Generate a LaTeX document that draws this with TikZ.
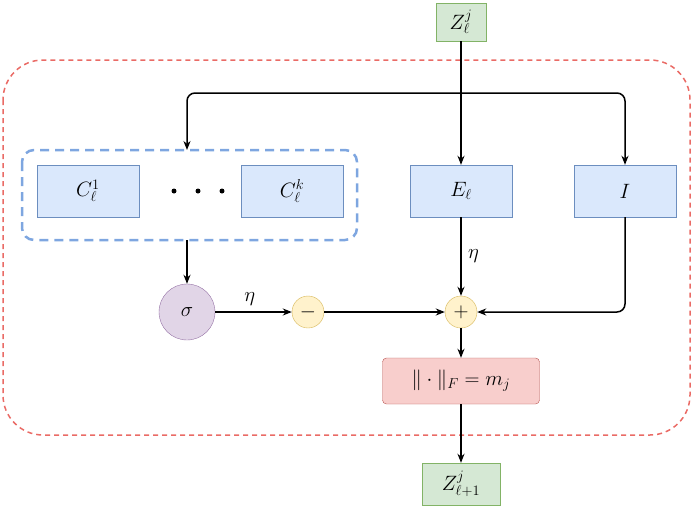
\documentclass[tikz,border=0pt]{standalone}
\usetikzlibrary{arrows.meta}
\begin{document}
\begin{tikzpicture}[x=1pt,y=-1pt,
  >={Stealth[length=9pt,width=7pt]},
  font=\fontsize{20}{24}\selectfont,
  blue box/.style={minimum width=102pt,minimum height=52pt,inner sep=0pt},
  dot/.style={circle,fill=black,minimum size=5pt,inner sep=0pt},
  line/.style={line width=1.5pt,->}]
\useasboundingbox (0,0) rectangle (697,512);
\definecolor{rd}{HTML}{EA6B66}\definecolor{bl}{HTML}{7EA6E0}
\definecolor{bfill}{HTML}{DAE8FC}\definecolor{bstroke}{HTML}{6C8EBF}
\definecolor{gfill}{HTML}{D5E8D4}\definecolor{gstroke}{HTML}{82B366}
\definecolor{yfill}{HTML}{FFF2CC}\definecolor{ystroke}{HTML}{D6B656}
\definecolor{pfill}{HTML}{E1D5E7}\definecolor{pstroke}{HTML}{9673A6}
\definecolor{rfill}{HTML}{F8CECC}\definecolor{rstroke}{HTML}{B85450}
\draw[rd,line width=1.5pt,dash pattern=on 5pt off 4pt,rounded corners=40pt] (3,60) rectangle (690,435);
\draw[bl,line width=2.5pt,dash pattern=on 9pt off 6pt,rounded corners=12pt] (22,150) rectangle (357,240);
\node[blue box,draw=bstroke,fill=bfill] (c1) at (88,191) {$C_\ell^1$};
\node[blue box,draw=bstroke,fill=bfill] (ck) at (292,191) {$C_\ell^k$};
\node[dot] (d1) at (174,191) {};
\node[dot] (d2) at (198,191) {};
\node[dot] (d3) at (222,191) {};
\node[blue box,draw=bstroke,fill=bfill] (e) at (461,191) {$E_\ell$};
\node[blue box,draw=bstroke,fill=bfill] (i) at (625,191) {$I$};
\node[draw=gstroke,fill=gfill,minimum width=50pt,minimum height=38pt,inner sep=0pt] (z) at (461,22) {$Z_\ell^j$};
\node[draw=gstroke,fill=gfill,minimum width=78pt,minimum height=42pt,inner sep=0pt] (z2) at (461,484) {$Z_{\ell+1}^j$};
\node[circle,draw=pstroke,fill=pfill,minimum size=56pt,inner sep=0pt] (s) at (187,312) {$\sigma$};
\node[circle,draw=ystroke,fill=yfill,minimum size=32pt,inner sep=0pt] (m) at (308,312) {$-$};
\node[circle,draw=ystroke,fill=yfill,minimum size=32pt,inner sep=0pt] (p) at (461,312) {$+$};
\node[draw=rstroke,fill=rfill,rounded corners=4pt,minimum width=157pt,minimum height=46pt,inner sep=0pt] (n) at (461,381) {$\|\cdot\|_F=m_j$};
\coordinate (bb) at (187,240);
\coordinate (bt) at (187,150);
\draw[line] (z) -- (e);
\draw[line width=1.5pt,<->,rounded corners=8pt] (bt) -- (187,93) -- (625,93) -- (i.north);
\draw[line] (bb) -- (s);
\draw[line] (s) -- node[above,pos=0.45,yshift=2pt]{$\eta$} (m);
\draw[line] (m) -- (p);
\draw[line] (e) -- node[right,xshift=3pt]{$\eta$} (p);
\draw[line,rounded corners=8pt] (i.south) -- (625,312) -- (p.east);
\draw[line] (p) -- (n);
\draw[line] (n) -- (z2);
\end{tikzpicture}
\end{document}
